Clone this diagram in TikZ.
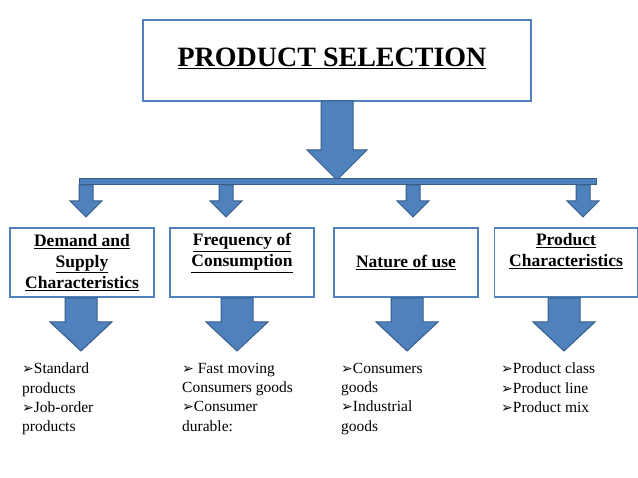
\documentclass[tikz,border=0pt]{standalone}
\usepackage{fontspec}
\setmainfont{Liberation Serif}
\newfontfamily\dv{DejaVu Sans}
\newcommand{\myul}[1]{\underline{#1}}
\begin{document}
\begin{tikzpicture}[x=1pt,y=-1pt,
  box/.style={draw=boxblue,line width=1.5pt,fill=white,inner sep=0pt,align=center,font=\fontsize{17.5}{21}\selectfont\bfseries},
  arr/.style={fill=arrblue,draw=arrline,line width=1pt},
  lst/.style={anchor=north west,align=left,inner sep=0pt,font=\fontsize{15.5}{19.2}\selectfont}]
\definecolor{boxblue}{HTML}{4F81BD}
\definecolor{arrblue}{HTML}{4F81BD}
\definecolor{arrline}{HTML}{385D8A}
\useasboundingbox (0,0) rectangle (638,478);
\fill[white] (0,0) rectangle (638,478);
\node[box,minimum width=388pt,minimum height=81pt] (top) at (337,60.5) {};
\node[font=\fontsize{28}{32}\selectfont\bfseries,inner sep=0pt] (tt) at (332,58) {\myul{PRODUCT SELECTION}};
% big arrow
\draw[arr] (321,101)--(353,101)--(353,150)--(367,150)--(337,180)--(307,150)--(321,150)--cycle;
% bar
\draw[arr] (79,179) rectangle (596,185);
% small arrows
\foreach \cx in {86,226,413,583}{
  \draw[arr] (\cx-7,185)--(\cx+7,185)--(\cx+7,201)--(\cx+16,201)--(\cx,217)--(\cx-16,201)--(\cx-7,201)--cycle;}
\node[box,minimum width=144pt,minimum height=69pt] (b1) at (82,262.5) {\myul{Demand and}\\\myul{Supply}\\\myul{Characteristics}};
\node[box,minimum width=144pt,minimum height=69pt] (b2) at (242,262.5) {\myul{Frequency of}\\\myul{Consumption}\\[4pt]};
\node[box,minimum width=144pt,minimum height=69pt] (b3) at (406,262.5) {\myul{Nature of use}};
\node[box,minimum width=143pt,minimum height=69pt] (b4) at (566,262.5) {\myul{Product}\\\myul{Characteristics}\\[4pt]};
% lower arrows
\foreach \cx in {81,237,407,564}{
  \draw[arr] (\cx-16,298)--(\cx+16,298)--(\cx+16,322)--(\cx+31,322)--(\cx,351)--(\cx-31,322)--(\cx-16,322)--cycle;}
\newcommand{\bul}{{\dv\bfseries\fontsize{14}{16}\selectfont ➢}}
\node[lst] (l1) at (22,363) {\bul Standard\\products\\\bul Job-order\\products};
\node[lst] (l2) at (182,363) {\bul\ Fast moving\\Consumers goods\\\bul Consumer\\durable:};
\node[lst] (l3) at (341,363) {\bul Consumers\\goods\\\bul Industrial\\goods};
\node[lst] (l4) at (501,363) {\bul Product class\\\bul Product line\\\bul Product mix};
\end{tikzpicture}
\end{document}
